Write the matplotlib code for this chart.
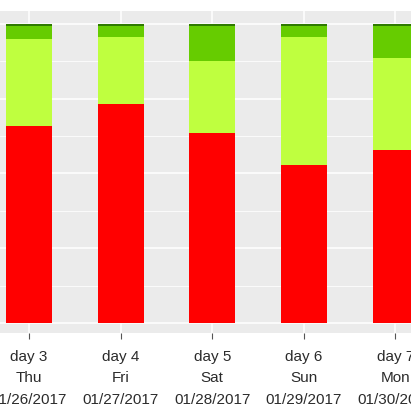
import matplotlib.pyplot as plt
import numpy as np

# --- dados (percentual por categoria, de baixo para cima) ---
dias = ["day 3", "day 4", "day 5", "day 6", "day 7"]
semana = ["Thu", "Fri", "Sat", "Sun", "Mon"]
datas = ["01/26/2017", "01/27/2017", "01/28/2017", "01/29/2017", "01/30/2017"]

vermelho = [66.0, 73.2, 63.6, 52.9, 57.9]
lima = [28.8, 22.3, 24.0, 42.6, 30.7]
verde = [4.4, 3.7, 11.6, 3.7, 10.6]
verde_escuro = [0.8, 0.8, 0.8, 0.8, 0.8]

series = [vermelho, lima, verde, verde_escuro]
cores = ["#ff0000", "#bfff3f", "#66cc00", "#2f7a00"]

plt.rcParams['font.family'] = ['Liberation Sans', 'DejaVu Sans']

fig = plt.figure(figsize=(4.11, 4.11), dpi=100)
ax = fig.add_axes([0, 0.19, 1, 0.784])
ax.set_facecolor("#ebebeb")

x = np.arange(len(dias))
base = np.zeros(len(dias))
for vals, cor in zip(series, cores):
    ax.bar(x, vals, width=0.5, bottom=base, color=cor, linewidth=0, zorder=3)
    base += np.array(vals)

# grade estilo ggplot
for y in np.arange(0, 101, 25):
    ax.axhline(y, color="white", lw=1.1, zorder=1)
for y in np.arange(12.5, 100, 25):
    ax.axhline(y, color="white", lw=0.55, zorder=1)
for xi in x:
    ax.axvline(xi, color="white", lw=1.1, zorder=1)

ax.set_xlim(-0.317, 4.17)
ax.set_ylim(-3.3, 104.4)
for s in ax.spines.values():
    s.set_visible(False)

labels = [f"{d}\n{s}\n{dt}" for d, s, dt in zip(dias, semana, datas)]
ax.set_xticks(x)
ax.set_xticklabels(labels, fontsize=11, color="#2b2b2b", linespacing=1.7)
ax.tick_params(axis="x", length=4, width=0.8, color="#555555", pad=8)
ax.set_yticks([])

fig.savefig("out.png", dpi=100)
